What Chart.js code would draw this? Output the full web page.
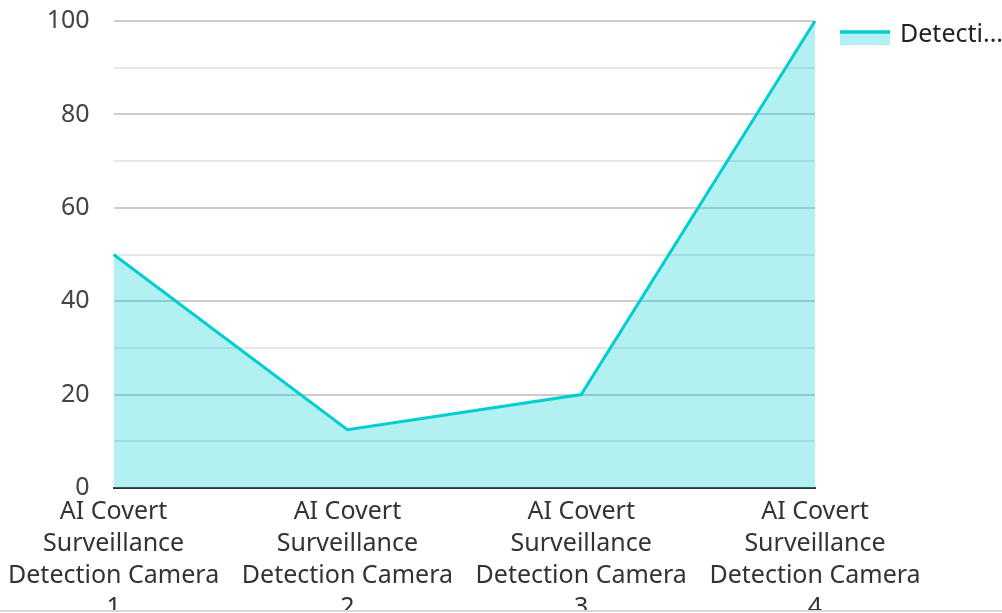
<!DOCTYPE html>
<html>
<head>
<meta charset="utf-8">
<script src="https://cdn.jsdelivr.net/npm/chart.js@4.4.1/dist/chart.umd.min.js"></script>
<style>
  html, body { margin: 0; padding: 0; background: #fff; overflow: hidden; }
  #wrap { position: relative; width: 1002px; height: 610px; overflow: hidden; border-bottom: 2px solid #d9d9d9; }
  #box { position: absolute; left: 0; top: 0; width: 1002px; height: 632px; }
</style>
</head>
<body>
<div id="wrap">
  <div id="box"><canvas id="lineChart"></canvas></div>
</div>
<script>
// chart values
const cameras = [
  ["AI Covert", "Surveillance", "Detection Camera", "1"],
  ["AI Covert", "Surveillance", "Detection Camera", "2"],
  ["AI Covert", "Surveillance", "Detection Camera", "3"],
  ["AI Covert", "Surveillance", "Detection Camera", "4"]
];
const detectionRate = [50, 12.5, 20, 100];
const seriesName = "Detection Rate";
const legendText = "Detecti...";

const lineColor = "rgb(0, 206, 209)";
const fillColor = "rgba(0, 206, 209, 0.3)";
const fontFamily = "'Noto Sans', 'Open Sans', sans-serif";

Chart.defaults.font.family = fontFamily;
Chart.defaults.font.size = 25;
Chart.defaults.color = "#333";

// small legend on the right: line over a filled box, then the (shortened) name
const sideLegend = {
  id: "sideLegend",
  afterDraw(chart) {
    const c = chart.ctx;
    const x = chart.chartArea.right + 25;
    const y = 31;
    c.save();
    c.fillStyle = fillColor;
    c.fillRect(x, y + 2, 50, 12);
    c.strokeStyle = lineColor;
    c.lineWidth = 3.5;
    c.beginPath();
    c.moveTo(x, y + 1);
    c.lineTo(x + 50, y + 1);
    c.stroke();
    c.fillStyle = "#222";
    c.font = "25px " + fontFamily;
    c.textBaseline = "alphabetic";
    c.fillText(legendText, x + 60, 42);
    c.restore();
  }
};

const data = {
  labels: cameras,
  datasets: [
    {
      label: seriesName,
      data: detectionRate,
      borderColor: lineColor,
      backgroundColor: fillColor,
      borderWidth: 3,
      fill: true,
      tension: 0,
      pointRadius: 0,
      pointHoverRadius: 0
    }
  ]
};

const config = {
  type: "line",
  data: data,
  plugins: [sideLegend],
  options: {
    responsive: true,
    maintainAspectRatio: false,
    animation: false,
    layout: { padding: { top: 0, right: 187, left: 0, bottom: 0 } },
    plugins: {
      tooltip: { enabled: false },
      legend: { display: false }
    },
    scales: {
      x: {
        offset: false,
        grid: { display: false, drawTicks: false },
        border: { display: true, color: "#333", width: 2 },
        ticks: {
          maxRotation: 0,
          autoSkip: false,
          padding: 8,
          color: "#333",
          font: { size: 25, lineHeight: 1.28 }
        }
      },
      y: {
        min: 0,
        max: 100,
        afterFit: function (scale) {
          scale.paddingTop = 21;
        },
        grid: {
          drawTicks: false,
          color: function (ctx) {
            return ctx.tick && ctx.tick.value % 20 === 0 ? "#cccccc" : "#e6e6e6";
          },
          lineWidth: 2
        },
        border: { display: false },
        ticks: {
          stepSize: 10,
          padding: 24,
          color: "#444",
          font: { size: 25 },
          callback: function (value) {
            return value % 20 === 0 ? value : "";
          }
        }
      }
    }
  }
};

const rateChart = new Chart(document.getElementById("lineChart"), config);
</script>
</body>
</html>
